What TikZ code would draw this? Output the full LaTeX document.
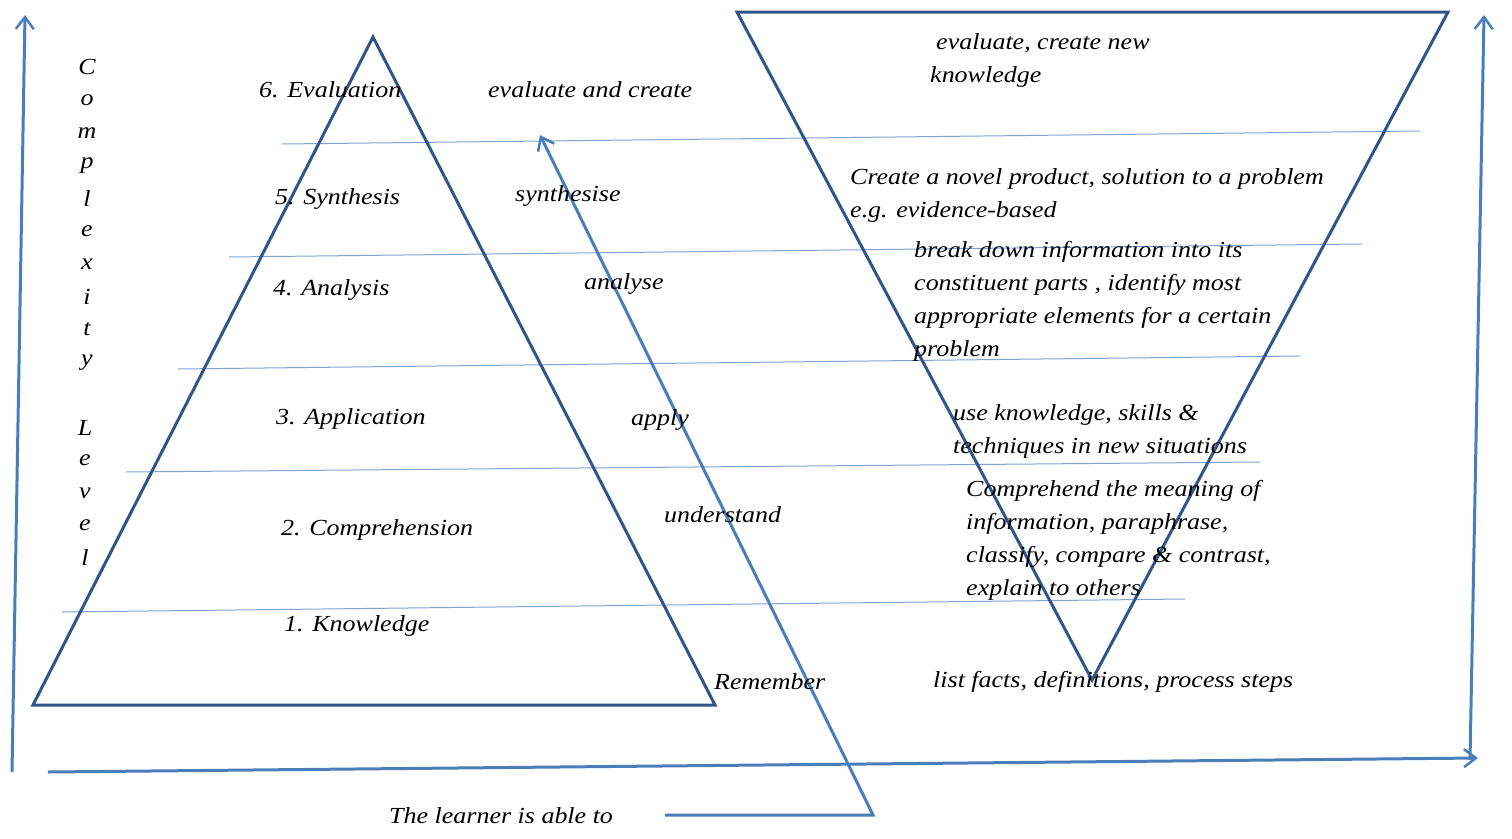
\documentclass[tikz,border=0pt]{standalone}
\usepackage{fontspec}
\setmainfont{Liberation Serif}[FakeStretch=1.13]
\usetikzlibrary{arrows.meta}
\definecolor{dk}{HTML}{2F5589}
\definecolor{lb}{HTML}{4A7EBB}
\definecolor{thin}{HTML}{7FA3D2}
\begin{document}
\begin{tikzpicture}[x=1pt,y=-1pt,
 tri/.style={draw=dk,line width=3pt,line join=miter},
 lvl/.style={draw=thin,line width=1pt},
 ax/.style={draw=lb,line width=3pt,-{Straight Barb[length=12pt,width=18pt,line width=2.5pt]}},
 t/.style={font=\fontsize{23}{33}\selectfont\itshape,inner sep=0pt,anchor=west,align=left}]
\useasboundingbox (0,0) rectangle (1512,838);
\node[coordinate] (a1) at (12,772) {}; \node[coordinate] (a2) at (25,15) {};
\node[coordinate] (b1) at (48,772) {}; \node[coordinate] (b2) at (1478,758) {};
\node[coordinate] (c1) at (1470,760) {}; \node[coordinate] (c2) at (1484,15) {};
\draw[ax] (a1) -- (a2);
\draw[ax] (b1) -- (b2);
\draw[ax] (c1) -- (c2);
\draw[lvl] (282,144) -- (1420,131);
\draw[lvl] (229,257) -- (1362,244);
\draw[lvl] (178,369) -- (1300,356);
\draw[lvl] (126,472) -- (1260,462);
\draw[lvl] (62,612) -- (1185,599);
\draw[tri] (373,37) -- (715,705) -- (33,705) -- cycle;
\draw[tri] (737,12) -- (1448,12) -- (1092,680) -- cycle;
\node[coordinate] (p0) at (665,815) {}; \node[coordinate] (p1) at (873,815) {}; \node[coordinate] (p2) at (540,135) {};
\draw[ax] (p0) -- (p1) -- (p2);
\foreach \c [count=\i] in {C,o,m,p,l,e,x,i,t,y} \node[t,anchor=center] at (87,{67+(\i-1)*32.8}) {\c};
\foreach \c [count=\i] in {L,e,v,e,l} \node[t,anchor=center] at (85,{428+(\i-1)*32.5}) {\c};
\node[t] (e6) at (259,90) {6. Evaluation};
\node[t] (e5) at (275,199) {5. Synthesis};
\node[t] (e4) at (273,290) {4. Analysis};
\node[t] (e3) at (276,419) {3. Application};
\node[t] (e2) at (281,530) {2. Comprehension};
\node[t] (e1) at (284,626) {1. Knowledge};
\node[t] (v6) at (488,90) {evaluate and create};
\node[t] (v5) at (515,196) {synthesise};
\node[t] (v4) at (584,284) {analyse};
\node[t] (v3) at (631,420) {apply};
\node[t] (v2) at (664,515) {understand};
\node[t] (v1) at (714,682) {Remember};
\node[t,anchor=north west] (d6) at (930,33) {\hspace*{6pt}evaluate, create new\\knowledge};
\node[t,anchor=north west] (d5) at (850,168) {Create a novel product, solution to a problem\\e.g. evidence-based};
\node[t,anchor=north west] (d4) at (914,241) {break down information into its\\constituent parts , identify most\\appropriate elements for a certain\\problem};
\node[t,anchor=north west] (d3) at (953,404) {use knowledge, skills \&\\techniques in new situations};
\node[t,anchor=north west] (d2) at (966,480) {Comprehend the meaning of\\information, paraphrase,\\classify, compare \& contrast,\\explain to others};
\node[t] (d1) at (933,682) {list facts, definitions, process steps};
\node[t] (lr) at (389,816) {The learner is able to};
\end{tikzpicture}
\end{document}
